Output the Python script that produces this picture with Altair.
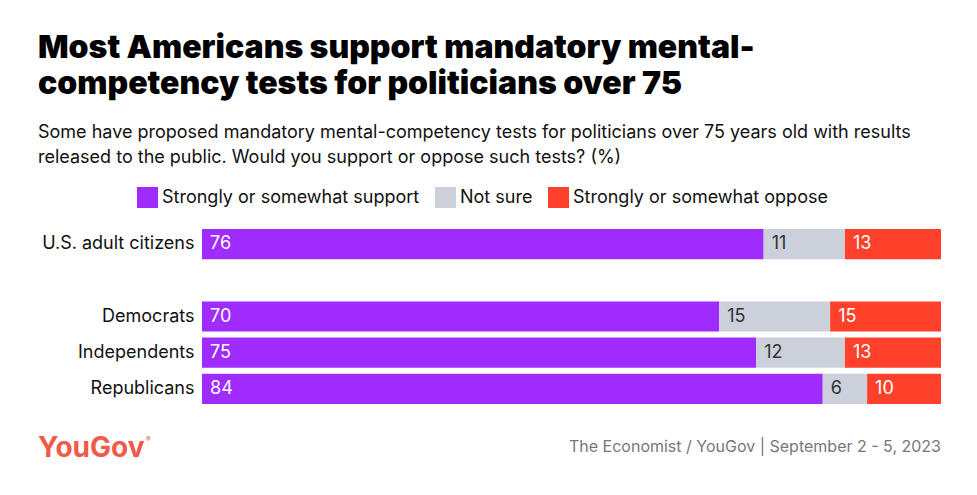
import altair as alt
import pandas as pd

groups = ["U.S. adult citizens", "Democrats", "Independents", "Republicans"]
group_order = ["U.S. adult citizens", " ", "Democrats", "Independents", "Republicans"]
categories = ["Strongly or somewhat support", "Not sure", "Strongly or somewhat oppose"]
support = [76, 70, 75, 84]
not_sure = [11, 15, 12, 6]
oppose = [13, 15, 13, 10]
colors = ["#a02bff", "#cbd0da", "#ff412c"]
label_colors = ["#ffffff", "#333333", "#ffffff"]

title_lines = ["Most Americans support mandatory mental-",
               "competency tests for politicians over 75"]
subtitle_lines = ["Some have proposed mandatory mental-competency tests for politicians over 75 years old with results",
                  "released to the public. Would you support or oppose such tests? (%)"]
source_text = "The Economist / YouGov | September 2 - 5, 2023"
logo_text = "YouGov"

FONT = "Inter"

rows = []
for gi, g in enumerate(groups):
    for ci, (c, vals) in enumerate(zip(categories, [support, not_sure, oppose])):
        rows.append({"group": g, "category": c, "order": ci, "value": vals[gi]})
df = pd.DataFrame(rows)

base = alt.Chart(df).transform_stack(
    stack="value", groupby=["group"], as_=["x0", "x1"],
    sort=[alt.SortField("order", order="ascending")]
)

yenc = alt.Y("group:N", sort=group_order,
             scale=alt.Scale(domain=group_order, paddingInner=1/6, paddingOuter=0),
             axis=alt.Axis(title=None, domain=False, ticks=False, labelPadding=8,
                           labelFont=FONT, labelFontSize=18, labelColor="#111111"))
xscale = alt.Scale(domain=[0, 100], nice=False, zero=True)

bars = base.mark_bar(cornerRadius=0).encode(
    x=alt.X("x0:Q", scale=xscale, axis=None),
    x2="x1:Q",
    y=yenc,
    color=alt.Color("category:N", sort=categories,
                    scale=alt.Scale(domain=categories, range=colors),
                    legend=alt.Legend(title=None, orient="none", direction="horizontal",
                                      legendX=-65, legendY=-42,
                                      symbolType="square", symbolSize=441,
                                      symbolStrokeWidth=0, symbolOpacity=1,
                                      labelFont=FONT, labelFontSize=18, labelColor="#111111",
                                      labelOffset=4, columnPadding=15, labelLimit=400)),
)

labels = base.mark_text(align="left", baseline="middle", dx=8, font=FONT, fontSize=18).encode(
    x=alt.X("x0:Q", scale=xscale, axis=None),
    y=yenc,
    text=alt.Text("value:Q"),
    color=alt.Color("category:N", scale=alt.Scale(domain=categories, range=label_colors), legend=None),
)

def text_layer(lines, x, y, size, weight, color, align="left", line_height=None):
    props = dict(align=align, baseline="alphabetic", font=FONT, fontSize=size,
                 fontWeight=weight, color=color, text=lines)
    if line_height:
        props["lineHeight"] = line_height
    return alt.Chart(pd.DataFrame({"a": [0]})).mark_text(**props).encode(
        x=alt.value(x), y=alt.value(y))

title = text_layer(title_lines, -164, -171, 32, 900, "#000000", line_height=36)
subtitle = text_layer(subtitle_lines, -164, -91, 18, 400, "#111111", line_height=25)
source = text_layer(source_text, 739, 223, 16, 400, "#777777", align="right")
logo = text_layer(logo_text, -164, 228, 28, 700, "#f05a4b")
logo_r = text_layer("®", -56, 213, 7, 400, "#f05a4b")

chart = alt.layer(bars, labels, title, subtitle, source, logo, logo_r).resolve_scale(
    color="independent"
).properties(
    width=739, height=175,
    autosize=alt.AutoSizeParams(type="none"),
    padding={"left": 194, "top": 221, "right": 20, "bottom": 80},
    background="white",
).configure_view(stroke=None)

chart.save("out.html", embed_options={"renderer": "svg", "actions": False})
